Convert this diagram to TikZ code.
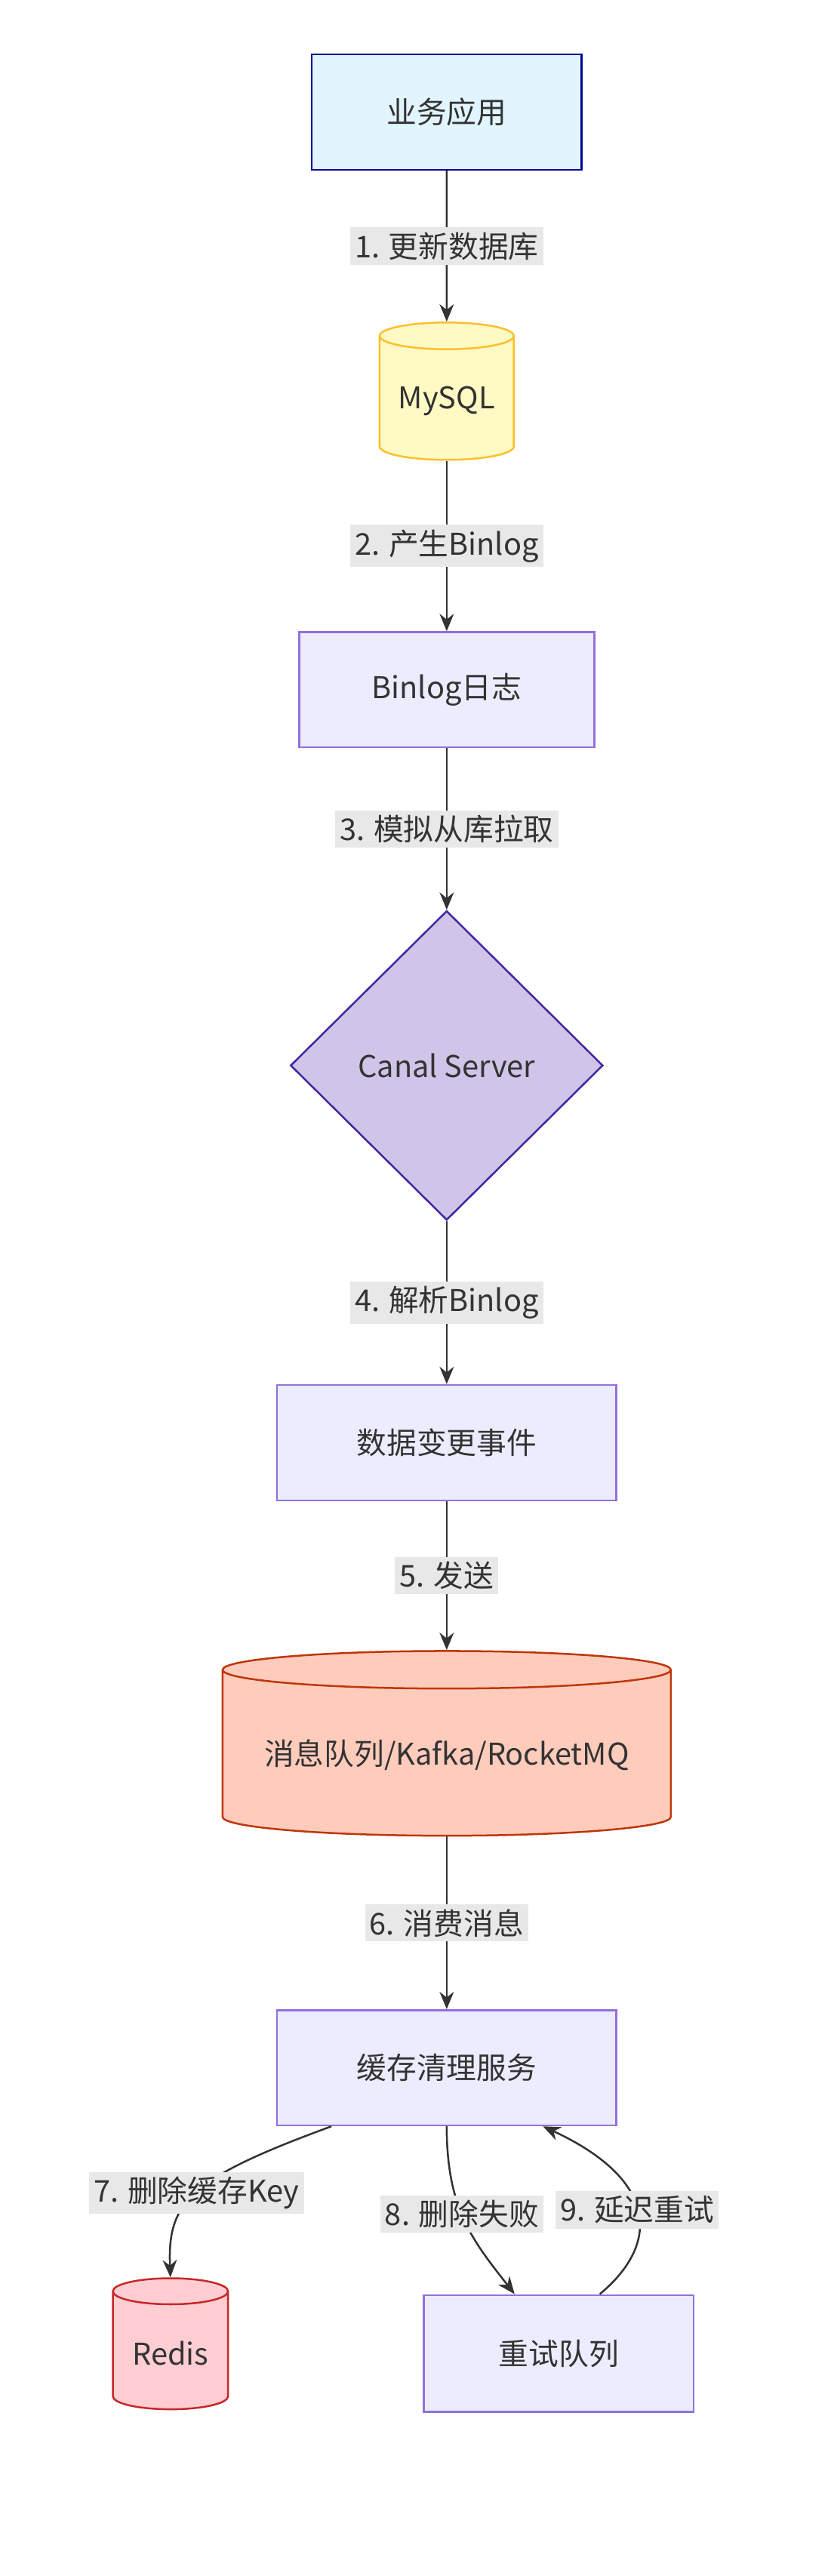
\documentclass[tikz,border=0pt]{standalone}
\usepackage{fontspec}
\setmainfont{Noto Sans CJK SC}
\usetikzlibrary{shapes.geometric,arrows.meta,calc}
\definecolor{edgec}{HTML}{333333}
\definecolor{lblbg}{HTML}{E8E8E8}
\definecolor{boxline}{HTML}{9370DB}
\definecolor{boxfill}{HTML}{ECECFF}
\tikzset{
  box/.style={draw=#1, line width=1.2pt, minimum height=73pt, font=\fontsize{19}{22}\selectfont, text=edgec},
  box/.default=boxline,
  db/.style={cylinder, shape border rotate=90, aspect=0.25, line width=1.2pt, font=\fontsize{19}{22}\selectfont, text=edgec},
  lbl/.style={fill=lblbg, font=\fontsize{19}{22}\selectfont, text=edgec, inner sep=3pt},
  flow/.style={draw=edgec, line width=1.2pt, -{Stealth[length=11pt,width=9pt]}},
}
\begin{document}
\begin{tikzpicture}[x=1pt,y=-1pt]
  \useasboundingbox (0,0) rectangle (526,1632);
  % nodes
  \node[box={blue!60!black}, fill={rgb,255:red,225;green,245;blue,254}, minimum width=171pt] (app) at (283,71) {业务应用};
  \node[db, draw={rgb,255:red,251;green,192;blue,45}, fill={rgb,255:red,255;green,249;blue,196}, minimum width=85pt, minimum height=87pt] (mysql) at (283,254) {MySQL};
  \node[box, fill=boxfill, minimum width=187pt] (binlog) at (283,437) {Binlog日志};
  \node[diamond, draw={rgb,255:red,69;green,39;blue,160}, line width=1.2pt, fill={rgb,255:red,209;green,196;blue,233}, minimum width=198pt, minimum height=196pt, inner sep=0pt, font=\fontsize{19}{22}\selectfont, text=edgec] (canal) at (283,675) {Canal Server};
  \node[box, fill=boxfill, minimum width=215pt] (event) at (283,914) {数据变更事件};
  \node[db, draw={rgb,255:red,191;green,54;blue,12}, fill={rgb,255:red,255;green,204;blue,188}, minimum width=284pt, minimum height=117pt, aspect=0.1] (mq) at (283,1112) {消息队列/Kafka/RocketMQ};
  \node[box, fill=boxfill, minimum width=215pt] (clean) at (283,1310) {缓存清理服务};
  \node[db, draw={rgb,255:red,198;green,40;blue,40}, fill={rgb,255:red,255;green,205;blue,210}, minimum width=73pt, minimum height=83pt, aspect=0.3] (redis) at (108,1491) {Redis};
  \node[box, fill=boxfill, minimum width=171pt, minimum height=74pt] (retry) at (354,1491) {重试队列};
  % edges
  \draw[flow] (app) -- node[lbl]{1. 更新数据库} (mysql);
  \draw[flow] (mysql) -- node[lbl]{2. 产生Binlog} (binlog);
  \draw[flow] (binlog) -- node[lbl]{3. 模拟从库拉取} (canal);
  \draw[flow] (canal) -- node[lbl]{4. 解析Binlog} (event);
  \draw[flow] (event) -- node[lbl]{5. 发送} (mq);
  \draw[flow] (mq) -- node[lbl]{6. 消费消息} (clean);
  \draw[flow] ($(clean.south)+(-73,0)$) .. controls (120,1380) and (106,1395) .. node[lbl, pos=0.5]{7. 删除缓存Key} (redis.north);
  \draw[flow] (clean.south) .. controls (283,1400) and (300,1420) .. node[lbl, pos=0.45]{8. 删除失败} ($(retry.north)+(-28,0)$);
  \draw[flow] ($(retry.north)+(26,0)$) .. controls (420,1420) and (415,1380) .. node[lbl, pos=0.5]{9. 延迟重试} ($(clean.south)+(61,0)$);
\end{tikzpicture}
\end{document}
